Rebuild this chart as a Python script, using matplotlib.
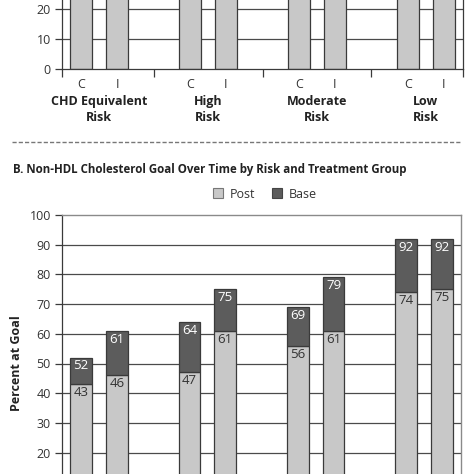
import matplotlib
matplotlib.use("Agg")
import matplotlib.pyplot as plt
import matplotlib.transforms as mtransforms
from matplotlib.lines import Line2D
from matplotlib.patches import Patch
import numpy as np

plt.rcParams['font.family'] = ['Open Sans', 'DejaVu Sans']

# ---- data ----
risk_groups = ["CHD Equivalent\nRisk", "High\nRisk", "Moderate\nRisk", "Low\nRisk"]
treatments = ["C", "I"]
# Panel A (only the lower part is visible in the crop)
a_values = [60, 66, 64, 72, 70, 76, 84, 86]
# Panel B: Non-HDL cholesterol goal
b_post = [43, 46, 47, 61, 56, 61, 74, 75]
b_base = [52, 61, 64, 75, 69, 79, 92, 92]
series_names = ["Post", "Base"]
title_b = "B. Non-HDL Cholesterol Goal Over Time by Risk and Treatment Group"
ylabel_b = "Percent at Goal"

W = H = 474
fig = plt.figure(figsize=(4.74, 4.74), dpi=100)

def px_axes(left, right, top_px, bottom_px):
    return [left / W, (H - bottom_px) / H, (right - left) / W, (bottom_px - top_px) / H]

light = "#c8c8c8"
dark = "#5c5c5c"
edge = "#3a3a3a"
grid_c = "#4a4a4a"
spine_c = "#8a8a8a"
txt = "#333333"

offs = [-0.165, 0.165]
xs = np.array([g + o for g in range(len(risk_groups)) for o in offs])
xlim = (-0.34, 3.34)
bw = 0.2

# ---- Panel A ----
axA = fig.add_axes(px_axes(62, 463, 69 - 300, 69))
axA.set_xlim(*xlim)
axA.set_ylim(0, 100)
axA.bar(xs, a_values, width=bw, color=light, edgecolor=edge, linewidth=0.9, zorder=2)
for v in [10, 20]:
    axA.axhline(v, color=grid_c, lw=0.9, zorder=1)
axA.set_yticks([0, 10, 20])
axA.set_yticklabels(["0", "10", "20"])
axA.tick_params(axis='y', length=5, width=0.9, color=edge, labelsize=9, labelcolor=txt, pad=3)
axA.set_xticks([xlim[0], 0.5, 1.5, 2.5, xlim[1]])
axA.set_xticklabels([])
axA.tick_params(axis='x', which='major', length=6, width=0.9, color=edge)
axA.set_xticks(xs, minor=True)
axA.set_xticklabels(treatments * len(risk_groups), minor=True)
axA.tick_params(axis='x', which='minor', length=0, labelsize=9, labelcolor=txt, pad=6.5)
axA.spines['top'].set_visible(False)
for s in ['left', 'bottom', 'right']:
    axA.spines[s].set_color(edge)
    axA.spines[s].set_linewidth(0.9)
trA = mtransforms.blended_transform_factory(axA.transData, fig.transFigure)
for g, name in enumerate(risk_groups):
    fig.text(g, (H - 109.5) / H, name, transform=trA, ha='center', va='center',
             fontsize=9, fontweight='bold', color="#222222", linespacing=1.25)

# ---- separator ----
fig.add_artist(Line2D([12 / W, 462 / W], [(H - 142) / H] * 2, transform=fig.transFigure,
                      color="#777777", lw=1.0, linestyle=(0, (3, 1.5))))

# ---- Panel B ----
fig.text(13 / W, (H - 170) / H, title_b, ha='left', va='center', fontsize=8.3,
         fontweight='bold', color="#222222")

px_per_unit = 2.97
ymin_b = 100 - (H - 215) / px_per_unit
axB = fig.add_axes(px_axes(62, 461, 215, H))
axB.set_xlim(*xlim)
axB.set_ylim(ymin_b, 100)
for v in range(10, 100, 10):
    axB.axhline(v, color=grid_c, lw=0.9, zorder=1)
axB.bar(xs, b_post, width=bw, color=light, edgecolor=edge, linewidth=0.9, zorder=2)
axB.bar(xs, np.array(b_base) - np.array(b_post), bottom=b_post, width=bw,
        color=dark, edgecolor=edge, linewidth=0.9, zorder=2)
for x, p, b in zip(xs, b_post, b_base):
    axB.annotate(str(b), (x, b), xytext=(0, -6), textcoords='offset points',
                 ha='center', va='center', color='white', fontsize=9.5, zorder=3)
    axB.annotate(str(p), (x, p), xytext=(0, -6), textcoords='offset points',
                 ha='center', va='center', color=txt, fontsize=9.5, zorder=3)
axB.set_yticks(range(20, 101, 10))
axB.tick_params(axis='y', length=5, width=0.9, color=edge, labelsize=9, labelcolor=txt, pad=3)
axB.set_xticks([])
axB.set_ylabel(ylabel_b, fontsize=9, fontweight='bold', color="#222222")
axB.yaxis.set_label_coords(-(62 - 23) / 399, 1 - (363 - 215) / (H - 215))
axB.spines['left'].set_color(edge)
axB.spines['left'].set_linewidth(0.9)
for s in ['top', 'right']:
    axB.spines[s].set_color(spine_c)
    axB.spines[s].set_linewidth(1.0)
axB.spines['bottom'].set_visible(False)

handles = [Patch(facecolor=light, edgecolor="#777777", linewidth=0.8),
           Patch(facecolor=dark, edgecolor="#444444", linewidth=0.8)]
fig.legend(handles, series_names, ncol=2, loc='center', bbox_to_anchor=(265 / W, (H - 194) / H),
           frameon=False, fontsize=9, handlelength=0.8, handleheight=0.8, handletextpad=0.5,
           columnspacing=1.4, labelcolor=txt)

fig.savefig("out.png", dpi=100)
